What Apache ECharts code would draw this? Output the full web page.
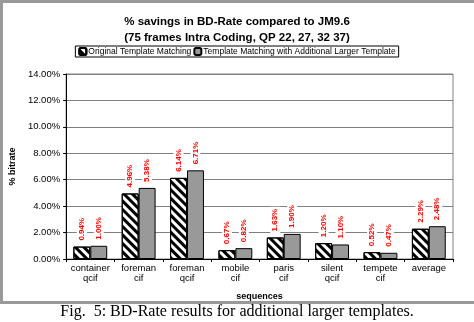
<!DOCTYPE html>
<html><head><meta charset="utf-8">
<script src="https://cdn.jsdelivr.net/npm/echarts@6/dist/echarts.min.js"></script>
<style>html,body{margin:0;padding:0;background:#fff;}#c{width:474px;height:322px;}</style>
</head><body><div id="c"></div>
<script>
var categories = ['container\nqcif','foreman\ncif','foreman\nqcif','mobile\ncif','paris\ncif','silent\nqcif','tempete\ncif','average'];
var originalTM = [0.94, 4.96, 6.14, 0.67, 1.63, 1.20, 0.52, 2.29];
var largerTM = [1.00, 5.38, 6.71, 0.82, 1.90, 1.10, 0.47, 2.48];
var yTicks = [0, 2, 4, 6, 8, 10, 12, 14];

var chart = echarts.init(document.getElementById('c'), null, {renderer:'canvas'});
var labelCfg = {
  show: true, position: 'top', rotate: 90, align: 'left', verticalAlign: 'middle',
  distance: 4, color: '#ff0000', fontFamily: 'Arial, Liberation Sans', fontSize: 8, fontWeight: 'bold',
  backgroundColor: '#fff', padding: [1, 2],
  formatter: function(p){ return p.value.toFixed(2) + '%'; }
};
chart.setOption({
  animation: false,
  title: {
    text: '% savings in BD-Rate compared to JM9.6\n(75 frames Intra Coding, QP 22, 27, 32 37)',
    left: 'center', top: 9,
    textStyle: {fontFamily: 'Arial, Liberation Sans', fontSize: 11.5, fontWeight: 'bold', color: '#000', lineHeight: 16}
  },
  legend: {
    top: 46, left: 'center', itemGap: 2, itemWidth: 7, itemHeight: 7,
    padding: [1, 3], borderColor: '#000', borderWidth: 1,
    textStyle: {fontFamily: 'Arial, Liberation Sans', fontSize: 8.5, color: '#000', padding: [0,0,0,-3]},
    data: ['Original Template Matching', 'Template Matching with Additional Larger Template']
  },
  grid: {left: 62, right: 21, top: 74, bottom: 63, show: true, borderColor: '#808080', borderWidth: 1},
  xAxis: {
    type: 'category', data: categories,
    name: 'sequences', nameLocation: 'middle', nameGap: 33,
    nameTextStyle: {fontFamily: 'Arial, Liberation Sans', fontSize: 9, fontWeight: 'bold', color: '#000'},
    axisLine: {lineStyle: {color: '#000', width: 1}},
    axisTick: {show: true, length: 3, lineStyle: {color: '#000'}},
    axisLabel: {fontFamily: 'Arial, Liberation Sans', fontSize: 9.5, color: '#000', lineHeight: 9.5, margin: 5, interval: 0}
  },
  yAxis: {
    type: 'value', min: 0, max: 14, interval: 2,
    name: '% bitrate', nameLocation: 'middle', nameGap: 47, nameRotate: 90,
    nameTextStyle: {fontFamily: 'Arial, Liberation Sans', fontSize: 9, fontWeight: 'bold', color: '#000'},
    axisLine: {show: true, lineStyle: {color: '#000', width: 1}},
    axisTick: {show: true, length: 3, lineStyle: {color: '#000'}},
    axisLabel: {fontFamily: 'Arial, Liberation Sans', fontSize: 9.5, color: '#000', margin: 6,
      formatter: function(v){ return v.toFixed(2) + '%'; }},
    splitLine: {lineStyle: {color: '#808080', width: 1}}
  },
  series: [
    {
      name: 'Original Template Matching', type: 'bar', data: originalTM,
      barGap: '0%', barCategoryGap: '30%',
      itemStyle: {color: '#ffffff', borderColor: '#000', borderWidth: 1,
        decal: {symbol: 'rect', symbolSize: 1, dashArrayX: [1, 0], dashArrayY: [3, 3], rotation: Math.PI / 4, color: '#000'}},
      label: labelCfg
    },
    {
      name: 'Template Matching with Additional Larger Template', type: 'bar', data: largerTM,
      itemStyle: {color: '#999999', borderColor: '#000', borderWidth: 1},
      label: labelCfg
    }
  ],
  graphic: [
    {type: 'rect', shape: {x: 1.5, y: 1.5, width: 480, height: 301}, style: {fill: null, stroke: '#999', lineWidth: 3}},
    {type: 'text', left: 'center', top: 304, style: {text: 'Fig.  5: BD-Rate results for additional larger templates.', font: '16px "Liberation Serif", "Times New Roman", serif', fill: '#000'}}
  ]
});
</script></body></html>
